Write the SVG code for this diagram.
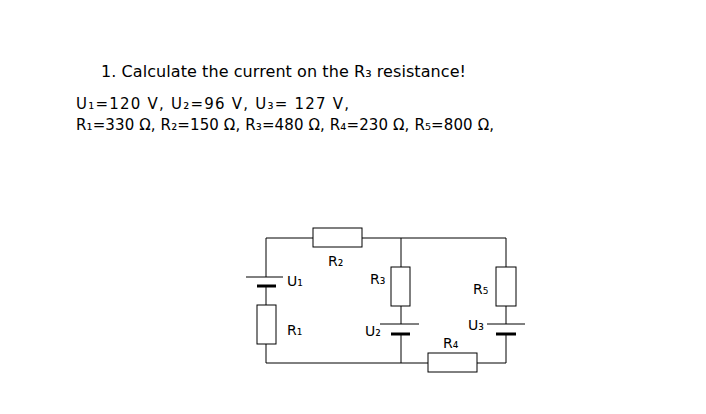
<svg xmlns="http://www.w3.org/2000/svg" width="706" height="414" viewBox="0 0 706 414">
<style>
text{font-family:"DejaVu Sans",Verdana,sans-serif;fill:#000}
.t{font-size:16px}.g{font-size:15px}.l{font-size:14px}
.w{stroke:#000;stroke-width:1;fill:none}
.r{stroke:#000;stroke-width:1;fill:#fff}
.p{stroke:#000;stroke-width:3}
</style>
<rect width="706" height="414" fill="#fff"/>
<text class="t" x="101" y="77" textLength="365" lengthAdjust="spacing">1. Calculate the current on the R₃ resistance!</text>
<text class="g" x="76" y="109" textLength="273" lengthAdjust="spacing">U₁=120 V,  U₂=96 V,  U₃= 127 V,</text>
<text class="g" x="76" y="130" textLength="418" lengthAdjust="spacing">R₁=330 Ω,  R₂=150 Ω, R₃=480 Ω, R₄=230 Ω, R₅=800 Ω,</text>
<g id="wires">
<path class="w" d="M266 277 V238 H506 V267 M401 238 V267 M266 286 V363 H506 V334 M401 306 V324 M401 334 V363 M506 306 V324"/>
</g>
<g id="R2"><rect class="r" x="313" y="228" width="49" height="19"/><text class="l" x="328" y="266">R₂</text></g>
<g id="U1"><line class="w" x1="246" y1="277" x2="283" y2="277"/><line class="p" x1="257" y1="286" x2="276" y2="286"/><text class="l" x="287" y="286">U₁</text></g>
<g id="R1"><rect class="r" x="257" y="305" width="19" height="39"/><text class="l" x="287" y="335">R₁</text></g>
<g id="R3"><rect class="r" x="391" y="267" width="19" height="39"/><text class="l" x="370" y="284">R₃</text></g>
<g id="U2"><line class="w" x1="380" y1="324" x2="419" y2="324"/><line class="p" x1="391" y1="334" x2="410" y2="334"/><text class="l" x="365" y="336">U₂</text></g>
<g id="R4"><rect class="r" x="428" y="353" width="49" height="19"/><text class="l" x="443" y="348">R₄</text></g>
<g id="R5"><rect class="r" x="496" y="267" width="20" height="39"/><text class="l" x="473" y="294">R₅</text></g>
<g id="U3"><line class="w" x1="487" y1="324" x2="525" y2="324"/><line class="p" x1="496" y1="334" x2="516" y2="334"/><text class="l" x="468" y="330">U₃</text></g>
</svg>
